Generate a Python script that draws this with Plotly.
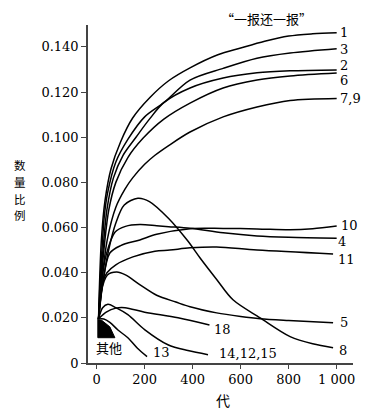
import plotly.graph_objects as go

# ---------------- data ----------------
c1_x = [8, 12, 20, 35, 60, 100, 150, 223, 300, 389, 505, 600, 700, 800, 900, 1000]
c1_y = [0.0195, 0.035, 0.055, 0.072, 0.086, 0.098, 0.1085, 0.1177, 0.125, 0.1307, 0.1365, 0.1395, 0.1425, 0.1448, 0.1458, 0.1463]

c3_x = [8, 14, 22, 32, 45, 80, 130, 200, 281, 389, 527, 668, 806, 1000]
c3_y = [0.0195, 0.035, 0.05, 0.065, 0.075, 0.089, 0.099, 0.109, 0.1154, 0.1253, 0.1305, 0.135, 0.1373, 0.1392]

c2_x = [8, 16, 28, 43, 70, 110, 164, 220, 281, 389, 527, 668, 806, 1000]
c2_y = [0.0195, 0.035, 0.052, 0.068, 0.082, 0.092, 0.1, 0.108, 0.1154, 0.1218, 0.1262, 0.1285, 0.1294, 0.1298]

c6_x = [8, 18, 32, 51, 80, 130, 193, 280, 389, 527, 668, 806, 1000]
c6_y = [0.0195, 0.035, 0.052, 0.068, 0.08, 0.091, 0.0995, 0.108, 0.1151, 0.1218, 0.1253, 0.1271, 0.1284]

c79_x = [8, 20, 45, 80, 118, 150, 200, 243, 300, 389, 527, 668, 806, 1000]
c79_y = [0.0195, 0.035, 0.055, 0.069, 0.077, 0.082, 0.088, 0.092, 0.0963, 0.1023, 0.109, 0.1134, 0.1163, 0.1172]

c8_x = [8, 25, 50, 80, 115, 172, 220, 300, 380, 431, 500, 568, 681, 806, 900, 985]
c8_y = [0.0195, 0.035, 0.05, 0.062, 0.07, 0.073, 0.0715, 0.064, 0.054, 0.0465, 0.037, 0.028, 0.02, 0.0117, 0.0085, 0.0068]

c4_x = [8, 20, 40, 77, 120, 180, 250, 300, 389, 527, 668, 800, 1000]
c4_y = [0.0195, 0.035, 0.048, 0.058, 0.0605, 0.0613, 0.0608, 0.0604, 0.0597, 0.0577, 0.0563, 0.0557, 0.0553]

c10_x = [8, 25, 55, 100, 180, 250, 389, 527, 668, 806, 900, 1000]
c10_y = [0.0195, 0.035, 0.0487, 0.052, 0.0545, 0.057, 0.0595, 0.0596, 0.0594, 0.059, 0.0595, 0.0607]

c11_x = [8, 18, 26, 43, 80, 151, 243, 305, 389, 500, 668, 985]
c11_y = [0.0195, 0.03, 0.036, 0.04, 0.0435, 0.047, 0.0495, 0.05, 0.051, 0.0514, 0.05, 0.0483]

c5_x = [8, 20, 45, 84, 120, 181, 250, 330, 389, 500, 600, 681, 800, 985]
c5_y = [0.0195, 0.032, 0.039, 0.0403, 0.039, 0.0346, 0.03, 0.027, 0.0249, 0.0222, 0.0206, 0.0196, 0.0188, 0.0178]

c18_x = [8, 40, 80, 118, 200, 339, 470]
c18_y = [0.0195, 0.0225, 0.0243, 0.0245, 0.0225, 0.02, 0.0168]

c141215_x = [8, 25, 47, 80, 130, 201, 297, 380, 464]
c141215_y = [0.0195, 0.0245, 0.026, 0.0245, 0.0214, 0.0147, 0.0081, 0.0055, 0.0037]

c13_x = [8, 30, 55, 90, 130, 170, 210]
c13_y = [0.0195, 0.0195, 0.018, 0.0145, 0.0112, 0.0065, 0.0028]

other_x = [5, 5, 76, 55, 20]
other_y = [0.0195, 0.0112, 0.0112, 0.016, 0.019]

curves = [
    (c1_x, c1_y), (c3_x, c3_y), (c2_x, c2_y), (c6_x, c6_y), (c79_x, c79_y),
    (c8_x, c8_y), (c4_x, c4_y), (c10_x, c10_y), (c11_x, c11_y), (c5_x, c5_y),
    (c18_x, c18_y), (c141215_x, c141215_y), (c13_x, c13_y),
]

# labels: (text, x, y)
end_labels = [
    ("1", 1008, 0.1466), ("3", 1008, 0.139), ("2", 1008, 0.1318), ("6", 1008, 0.1252),
    ("7,9", 1008, 0.117), ("10", 1012, 0.0607), ("4", 1000, 0.0537), ("11", 1000, 0.046),
    ("5", 1008, 0.0179), ("8", 1005, 0.0055), ("18", 485, 0.0148),
    ("14,12,15", 505, 0.0042), ("13", 231, 0.0046), ("其他", -5, 0.0063),
]

y_ticks = [0, 0.02, 0.04, 0.06, 0.08, 0.10, 0.12, 0.14]
y_ticktext = ["0", "0.020", "0.040", "0.060", "0.080", "0.100", "0.120", "0.140"]
x_ticks = [0, 200, 400, 600, 800, 1000]
x_ticktext = ["0", "200", "400", "600", "800", "1 000"]

ytitle_chars = ["数", "量", "比", "例"]

FONT = "DejaVu Serif, Liberation Serif, Noto Sans CJK SC, serif"
CJK = "Noto Sans CJK SC"

# page body has an 8 px default margin: figure sized/placed to compensate
W, H = 369, 401
ML, MR, MT, MB = 80, 24, 17, 46
PW, PH = W - ML - MR, H - MT - MB

fig = go.Figure()

fig.add_trace(go.Scatter(x=other_x, y=other_y, mode="lines", fill="toself",
                         fillcolor="black", line=dict(color="black", width=1),
                         hoverinfo="skip", showlegend=False))

for cx, cy in curves:
    fig.add_trace(go.Scatter(x=cx, y=cy, mode="lines",
                             line=dict(color="black", width=1.5, shape="spline", smoothing=0.9),
                             showlegend=False, hoverinfo="skip"))

for text, lx, ly in end_labels:
    fig.add_annotation(x=lx, y=ly, text=text, showarrow=False, xanchor="left",
                       yanchor="middle", borderpad=0,
                       font=dict(family=FONT, size=13, color="black"))

fig.add_annotation(x=708, y=1 + 6.5 / PH, xref="x", yref="paper", text="“一报还一报”",
                   showarrow=False, xanchor="center", yanchor="middle", borderpad=0,
                   font=dict(family=CJK, size=13, color="black"))

for i, ch in enumerate(ytitle_chars):
    fig.add_annotation(x=-68 / PW, y=(198 - 16.8 * i) / PH, xref="paper", yref="paper",
                       text=ch, showarrow=False, xanchor="center", yanchor="middle",
                       borderpad=0, font=dict(family=CJK, size=11.5, color="black"))

fig.add_annotation(x=(223 - 88) / PW, y=-37 / PH, xref="paper", yref="paper",
                   text="代", showarrow=False, xanchor="center", yanchor="middle",
                   font=dict(family=CJK, size=14, color="black"))

fig.update_layout(
    width=W, height=H,
    margin=dict(l=ML, r=MR, t=MT, b=MB, autoexpand=False),
    plot_bgcolor="white", paper_bgcolor="white",
    font=dict(family=FONT, size=13, color="black"),
    xaxis=dict(range=[-36, 1068], tickvals=x_ticks, ticktext=x_ticktext,
               showgrid=False, zeroline=False, showline=True, linecolor="#444",
               linewidth=1.5, ticks="outside", ticklen=4, tickcolor="#444",
               automargin=False),
    yaxis=dict(range=[0, 0.1497], tickvals=y_ticks, ticktext=y_ticktext,
               showgrid=False, zeroline=False, showline=True, linecolor="#444",
               linewidth=1.5, ticks="outside", ticklen=5, tickcolor="#444",
               automargin=False),
)

fig.write_html("out.html")
